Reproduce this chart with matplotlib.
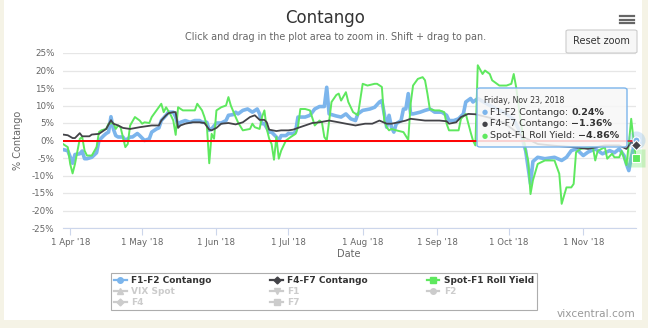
import matplotlib
matplotlib.use('Agg')
import matplotlib.pyplot as plt
from matplotlib.lines import Line2D
from matplotlib.patches import FancyBboxPatch, Rectangle
import pandas as pd

# F1-F2 contango (%)
f1f2_dates = ['03-29', '03-31', '04-02', '04-03', '04-05', '04-06', '04-07', '04-08', '04-10', '04-12',
              '04-13', '04-15', '04-16', '04-17', '04-18', '04-19', '04-20', '04-21', '04-23', '04-24',
              '04-26', '04-27', '04-29', '04-30', '05-02', '05-04', '05-05', '05-07', '05-08', '05-09',
              '05-11', '05-12', '05-14', '05-15', '05-16', '05-17', '05-19', '05-21', '05-23', '05-25',
              '05-26', '05-28', '05-29', '05-30', '06-01', '06-03', '06-05', '06-06', '06-08', '06-09',
              '06-10', '06-12', '06-14', '06-16', '06-18', '06-19', '06-20', '06-21', '06-23', '06-24',
              '06-26', '06-27', '06-28', '06-30', '07-01', '07-03', '07-04', '07-05', '07-08', '07-10',
              '07-12', '07-14', '07-16', '07-17', '07-18', '07-21', '07-23', '07-25', '07-27', '07-29',
              '07-30', '08-01', '08-04', '08-06', '08-08', '08-09', '08-10', '08-11', '08-12', '08-13',
              '08-14', '08-15', '08-17', '08-18', '08-19', '08-20', '08-21', '08-22', '08-25', '08-27',
              '08-29', '08-30', '08-31', '09-03', '09-05', '09-06', '09-08', '09-10', '09-12', '09-13',
              '09-15', '09-16', '09-18', '09-23', '09-29', '10-03', '10-06', '10-08', '10-10', '10-11',
              '10-13', '10-16', '10-20', '10-23', '10-25', '10-27', '10-29', '10-30', '11-01', '11-03',
              '11-06', '11-09', '11-12', '11-14', '11-16', '11-18', '11-19', '11-20', '11-21', '11-22',
              '11-23']
f1f2 = [-2.6, -2.9, -6.5, -4.0, -3.8, -3.0, -5.2, -5.2, -4.8, -3.5,
        0.0, 1.4, 2.0, 2.4, 6.8, 3.3, 1.4, 1.0, 1.0, 0.0,
        1.0, 1.0, 2.0, 1.4, 0.0, 0.5, 2.4, 3.3, 3.6, 5.7,
        7.2, 8.1, 8.1, 6.7, 4.3, 5.2, 5.7, 5.2, 5.7, 5.7,
        5.2, 5.2, 2.9, 3.3, 5.0, 5.0, 5.7, 7.2, 7.4, 8.1,
        7.6, 8.6, 9.0, 8.1, 9.0, 7.6, 4.8, 4.8, 2.4, 2.4,
        1.0, 0.0, 1.4, 1.4, 2.0, 2.0, 2.4, 6.7, 6.7, 7.2,
        9.0, 9.7, 9.7, 15.2, 7.6, 7.0, 6.7, 7.6, 6.2, 5.7,
        7.6, 8.6, 9.0, 9.5, 11.0, 11.4, 7.6, 3.8, 7.2, 3.8,
        2.4, 4.8, 5.7, 9.0, 9.0, 13.4, 7.6, 7.6, 8.1, 8.6,
        9.0, 8.6, 8.1, 8.1, 7.2, 5.7, 5.7, 6.2, 7.6, 11.0,
        12.0, 11.0, 12.0, 10.0, 8.0, 6.0, 2.0, -3.0, -12.4, -6.0,
        -4.8, -5.2, -4.8, -5.7, -4.8, -2.9, -2.4, -3.0, -4.3, -3.3,
        -2.4, -3.8, -2.9, -3.5, -2.4, -4.3, -6.7, -8.6, -5.0, -2.0,
        0.24]

# F4-F7 contango (%)
f4f7_dates = ['03-29', '03-31', '04-02', '04-03', '04-05', '04-06', '04-09', '04-10', '04-13', '04-16',
              '04-18', '04-19', '04-21', '04-23', '04-26', '04-30', '05-02', '05-05', '05-08', '05-09',
              '05-11', '05-12', '05-14', '05-15', '05-16', '05-17', '05-19', '05-22', '05-25', '05-27',
              '05-29', '05-30', '06-01', '06-03', '06-06', '06-09', '06-12', '06-15', '06-17', '06-19',
              '06-21', '06-22', '06-23', '06-26', '06-28', '07-01', '07-03', '07-05', '07-08', '07-11',
              '07-14', '07-18', '07-22', '07-25', '07-29', '08-02', '08-05', '08-08', '08-11', '08-13',
              '08-16', '08-19', '08-21', '08-27', '09-02', '09-05', '09-06', '09-09', '09-11', '09-14',
              '09-17', '09-23', '09-29', '10-03', '10-07', '10-13', '10-20', '10-28', '11-03', '11-10',
              '11-16', '11-19', '11-21', '11-23']
f4f7 = [1.7, 1.5, 0.7, 0.7, 2.1, 1.2, 1.2, 1.7, 1.9, 3.3,
        5.8, 4.8, 4.3, 3.6, 3.3, 3.8, 4.0, 4.3, 4.3, 5.7,
        7.2, 7.8, 8.1, 8.1, 3.6, 4.3, 4.8, 5.2, 5.2, 5.0,
        3.1, 2.9, 3.6, 4.8, 5.0, 4.6, 5.2, 6.7, 7.2, 5.9,
        5.9, 5.2, 3.1, 2.7, 2.9, 2.9, 3.1, 3.6, 4.3, 5.0,
        5.2, 5.7, 5.2, 4.8, 4.3, 4.8, 4.8, 5.7, 4.8, 4.8,
        5.2, 5.7, 6.2, 5.7, 5.7, 5.5, 4.8, 5.2, 6.7, 7.6,
        7.5, 6.5, 5.0, 3.0, 1.0, -1.0, -1.5, -1.9, -2.4, -1.4,
        -1.4, -2.4, -0.5, -1.36]

# Spot-F1 roll yield (%)
roll_dates = ['03-29', '03-31', '04-01', '04-02', '04-03', '04-05', '04-06', '04-07', '04-08', '04-10',
              '04-12', '04-13', '04-14', '04-16', '04-17', '04-19', '04-20', '04-21', '04-22', '04-23',
              '04-24', '04-25', '04-26', '04-28', '04-30', '05-01', '05-02', '05-04', '05-05', '05-07',
              '05-09', '05-10', '05-11', '05-13', '05-14', '05-15', '05-16', '05-18', '05-21', '05-23',
              '05-24', '05-26', '05-27', '05-28', '05-29', '05-30', '05-31', '06-01', '06-03', '06-05',
              '06-06', '06-07', '06-09', '06-10', '06-12', '06-15', '06-16', '06-17', '06-19', '06-20',
              '06-21', '06-22', '06-23', '06-24', '06-25', '06-26', '06-27', '06-28', '06-30', '07-02',
              '07-04', '07-05', '07-06', '07-08', '07-10', '07-12', '07-14', '07-15', '07-16', '07-17',
              '07-19', '07-21', '07-22', '07-23', '07-25', '07-26', '07-28', '07-30', '08-01', '08-03',
              '08-06', '08-07', '08-09', '08-10', '08-11', '08-12', '08-13', '08-15', '08-18', '08-20',
              '08-21', '08-22', '08-24', '08-26', '08-27', '08-28', '08-29', '08-31', '09-02', '09-04',
              '09-05', '09-06', '09-08', '09-10', '09-11', '09-13', '09-15', '09-16', '09-17', '09-18',
              '09-20', '09-21', '09-23', '09-24', '09-27', '09-30', '10-02', '10-03', '10-04', '10-06',
              '10-08', '10-09', '10-10', '10-11', '10-13', '10-16', '10-20', '10-22', '10-23', '10-25',
              '10-27', '10-28', '10-29', '10-31', '11-03', '11-05', '11-06', '11-07', '11-10', '11-11',
              '11-13', '11-14', '11-16', '11-17', '11-19', '11-20', '11-21', '11-22', '11-23']
roll = [-1.0, -1.9, -6.7, -9.4, -6.7, 0.5, 1.0, -2.9, -4.3, -4.3,
        -1.9, 2.4, 2.9, 3.3, 4.8, 5.0, 3.3, 4.3, 3.8, 1.0,
        -1.9, -1.0, 4.3, 6.7, 5.7, 4.8, 5.2, 5.0, 6.7, 8.6,
        10.5, 8.1, 9.5, 7.2, 5.7, 1.6, 9.5, 8.6, 8.6, 8.6,
        10.5, 8.6, 6.7, 4.3, -6.5, 1.9, 0.5, 8.6, 9.5, 10.0,
        12.4, 10.0, 6.7, 5.2, 2.9, 3.3, 4.8, 3.8, 3.3, 6.7,
        8.6, 3.3, 0.5, -1.0, -5.5, 1.0, -5.2, -2.9, 0.0, 1.0,
        1.9, 3.8, 9.0, 9.0, 8.6, 4.3, 5.7, 5.2, 1.0, 0.0,
        11.0, 13.0, 13.4, 11.4, 13.8, 11.0, 8.1, 7.2, 16.2, 15.7,
        16.2, 16.2, 15.3, 5.7, 3.8, 2.9, 3.3, 2.9, 2.4, 0.2,
        10.5, 15.7, 17.6, 18.1, 17.2, 13.4, 9.0, 8.6, 8.6, 8.1,
        4.8, 2.9, 2.9, 2.9, 6.2, 7.6, 2.4, 0.0, -1.4, 21.5,
        19.0, 20.0, 19.0, 17.2, 15.7, 15.7, 16.2, 19.0, 15.3, 5.0,
        -3.0, -5.7, -15.3, -11.4, -6.7, -5.7, -5.7, -9.5, -18.1, -13.4,
        -13.4, -12.4, -3.3, -2.4, -1.9, -1.9, -5.7, -3.0, -1.9, -5.2,
        -3.8, -4.8, -4.8, -3.0, -7.0, -1.0, 6.2, 0.0, -4.86]

month_ticks = ['2018-04-01', '2018-05-01', '2018-06-01', '2018-07-01',
               '2018-08-01', '2018-09-01', '2018-10-01', '2018-11-01']
month_labels = ["1 Apr '18", "1 May '18", "1 Jun '18", "1 Jul '18",
                "1 Aug '18", "1 Sep '18", "1 Oct '18", "1 Nov '18"]
y_ticks = [-25, -20, -15, -10, -5, 0, 5, 10, 15, 20, 25]

def todate(lst):
    return pd.to_datetime(['2018-' + d for d in lst])

W, H = 648, 328
def fx(px):
    return px / W
def fy(py):
    return 1 - py / H

BLUE = '#7cb5ec'
BLACK = '#434348'
GREEN = '#5ee85e'

plt.rcParams['font.family'] = 'DejaVu Sans'
fig = plt.figure(figsize=(6.48, 3.28), dpi=100)
fig.patch.set_facecolor('#f5f3e6')

# white card
fig.add_artist(Rectangle((fx(4), fy(320)), fx(638), 320 / H, transform=fig.transFigure,
                         facecolor='white', edgecolor='none', zorder=0))

ax = fig.add_axes([fx(63), fy(228), fx(636) - fx(63), fy(53) - fy(228)])
ax.set_facecolor('none')

d1 = todate(f1f2_dates)
d2 = todate(f4f7_dates)
d3 = todate(roll_dates)

ax.plot(d3, roll, color=GREEN, lw=1.4, zorder=3)
ax.plot(d2, f4f7, color=BLACK, lw=1.3, zorder=4)
ax.plot(d1, f1f2, color=BLUE, lw=2.6, zorder=2)
ax.axhline(0, color='red', lw=1.4, zorder=5)

# hover markers at last point
ax.plot(d1[-1], f1f2[-1], 'o', ms=13, color=BLUE, alpha=0.3, mec='none', clip_on=False, zorder=6)
ax.plot(d1[-1], f1f2[-1], 'o', ms=5, color=BLUE, mec='white', mew=0.8, clip_on=False, zorder=7)
ax.plot(d2[-1], f4f7[-1], 'D', ms=5, color=BLACK, mec='white', mew=0.8, clip_on=False, zorder=7)
ax.plot(d3[-1], roll[-1], 's', ms=13, color=GREEN, alpha=0.3, mec='none', clip_on=False, zorder=6)
ax.plot(d3[-1], roll[-1], 's', ms=6, color=GREEN, mec='white', mew=0.8, clip_on=False, zorder=7)

ax.set_xlim(d1[0], d1[-1])
ax.set_ylim(-25, 25)
ax.set_yticks(y_ticks)
ax.set_yticklabels([f'{v}%' for v in y_ticks])
ax.set_xticks(pd.to_datetime(month_ticks))
ax.set_xticklabels(month_labels)
ax.grid(axis='y', color='#e6e6e6', lw=0.9, zorder=0)
for s in ['left', 'right', 'top']:
    ax.spines[s].set_visible(False)
ax.spines['bottom'].set_color('#ccd6eb')
ax.tick_params(axis='y', length=0, labelsize=6.3, labelcolor='#666666', pad=6)
ax.tick_params(axis='x', length=5, color='#ccd6eb', labelsize=6.2, labelcolor='#666666', pad=2)

fig.text(fx(18), fy(140), '% Contango', rotation=90, ha='center', va='center', fontsize=7, color='#666666')
fig.text(fx(349), fy(254), 'Date', ha='center', va='center', fontsize=7, color='#666666')

# title / subtitle
fig.text(fx(325), fy(18), 'Contango', ha='center', va='center', fontsize=12, color='#333333')
fig.text(fx(336), fy(37), 'Click and drag in the plot area to zoom in. Shift + drag to pan.',
         ha='center', va='center', fontsize=6.9, color='#666666')

# menu icon and reset button
for yy in [16, 19.5, 23]:
    fig.add_artist(Line2D([fx(620), fx(634)], [fy(yy), fy(yy)], color='#666666', lw=1.6,
                          transform=fig.transFigure))
fig.add_artist(FancyBboxPatch((fx(566), fy(53)), fx(71), 23 / H, transform=fig.transFigure,
                              boxstyle='round,pad=0,rounding_size=0.004',
                              facecolor='#f7f7f7', edgecolor='#cccccc', lw=0.8))
fig.text(fx(601), fy(41.5), 'Reset zoom', ha='center', va='center', fontsize=7, color='#333333')

# tooltip
fig.add_artist(FancyBboxPatch((fx(477), fy(147)), fx(150), 59 / H, transform=fig.transFigure,
                              boxstyle='round,pad=0,rounding_size=0.005',
                              facecolor=(0.97, 0.97, 0.97, 0.85), edgecolor=BLUE, lw=1, zorder=10))
fig.text(fx(484), fy(100), 'Friday, Nov 23, 2018', ha='left', va='center', fontsize=5.6,
         color='#333333', zorder=11)
tip_rows = [(BLUE, 'F1-F2 Contango: ', f'{f1f2[-1]:.2f}%'),
            (BLACK, 'F4-F7 Contango: ', f'{f4f7[-1]:.2f}%'.replace('-', '\u2212')),
            (GREEN, 'Spot-F1 Roll Yield: ', f'{roll[-1]:.2f}%'.replace('-', '\u2212'))]
renderer = fig.canvas.get_renderer()
for i, (c, lab, val) in enumerate(tip_rows):
    yy = fy(112 + 12 * i)
    fig.text(fx(482), yy, '\u25cf', color=c, fontsize=5, ha='left', va='center', zorder=11)
    t = fig.text(fx(490), yy, lab, ha='left', va='center', fontsize=6.8, color='#333333', zorder=11)
    bb = t.get_window_extent(renderer).transformed(fig.transFigure.inverted())
    fig.text(bb.x1, yy, val, ha='left', va='center', fontsize=6.8, fontweight='bold',
             color='#333333', zorder=11)

# legend
grey = '#cccccc'
handles = [Line2D([], [], color=BLUE, marker='o', ms=4, lw=1.6),
           Line2D([], [], color=grey, marker='^', ms=4, lw=1.6),
           Line2D([], [], color=grey, marker='D', ms=3.5, lw=1.6),
           Line2D([], [], color=BLACK, marker='D', ms=3.5, lw=1.6),
           Line2D([], [], color=grey, marker='v', ms=4, lw=1.6),
           Line2D([], [], color=grey, marker='s', ms=4, lw=1.6),
           Line2D([], [], color=GREEN, marker='s', ms=4, lw=1.6),
           Line2D([], [], color=grey, marker='o', ms=4, lw=1.6)]
labels = ['F1-F2 Contango', 'VIX Spot', 'F4', 'F4-F7 Contango', 'F1', 'F7',
          'Spot-F1 Roll Yield', 'F2']
leg = fig.legend(handles, labels, ncol=3, loc='upper left', mode='expand',
                 bbox_to_anchor=(fx(111), fy(311), fx(537) - fx(111), fy(273) - fy(311)),
                 bbox_transform=fig.transFigure, fontsize=6.5, frameon=True, fancybox=False,
                 handlelength=1.4, handletextpad=0.5, labelspacing=0.2, borderpad=0.35,
                 borderaxespad=0, numpoints=1)
leg.get_frame().set_edgecolor('#999999')
leg.get_frame().set_linewidth(0.8)
for t, lab in zip(leg.get_texts(), labels):
    if lab in ('F1-F2 Contango', 'F4-F7 Contango', 'Spot-F1 Roll Yield'):
        t.set_color('#333333')
        t.set_fontweight('bold')
    else:
        t.set_color(grey)
        t.set_fontweight('bold')

fig.text(fx(635), fy(314), 'vixcentral.com', ha='right', va='center', fontsize=7.6, color='#999999')

fig.savefig('out.png', dpi=100, facecolor=fig.get_facecolor())
